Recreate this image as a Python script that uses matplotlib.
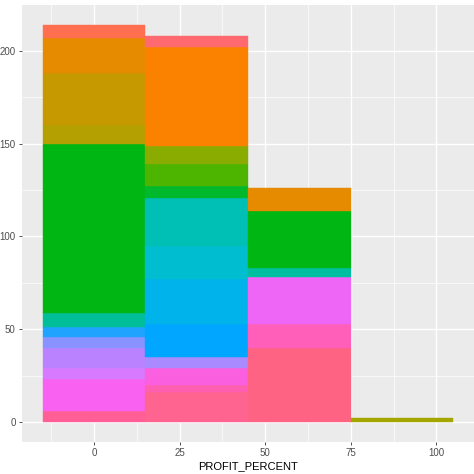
import matplotlib
matplotlib.use("Agg")
import matplotlib.pyplot as plt
import numpy as np

plt.rcParams['font.family'] = ['Liberation Sans', 'DejaVu Sans']

# histogram bins (centers), bin width 30
bin_centers = [0, 30, 60, 90]
bin_width = 30

# stacked counts per bin, bottom to top, with fill colours of the groups
counts_bin0 = [6, 17, 6, 11, 6, 5, 8, 91, 10, 28, 19, 7]
colors_bin0 = ['#FF5F96', '#F962F0', '#D77AFF', '#BB82FF', '#8A92FF', '#1FA3FF',
               '#00BE98', '#00B612', '#B4A000', '#C69900', '#E68A00', '#FF6F50']
counts_bin1 = [16, 4, 9, 6, 18, 24, 18, 26, 6, 12, 10, 53, 6]
colors_bin1 = ['#FF6390', '#FF5FB0', '#FA5FE0', '#A98BFF', '#00A6FF', '#00B4EB',
               '#00BDD0', '#00BFB4', '#00B82B', '#4DB400', '#8AAB00', '#FA8200', '#FF6A70']
counts_bin2 = [40, 13, 25, 5, 31, 12]
colors_bin2 = ['#FF6384', '#FF5FB8', '#EE66F6', '#00BFA0', '#00B612', '#E68A00']
counts_bin3 = [2]
colors_bin3 = ['#A3A500']

all_counts = [counts_bin0, counts_bin1, counts_bin2, counts_bin3]
all_colors = [colors_bin0, colors_bin1, colors_bin2, colors_bin3]

x_ticks = [0, 25, 50, 75, 100]
y_ticks = [0, 50, 100, 150, 200]
x_label = "PROFIT_PERCENT"

fig = plt.figure(figsize=(4.74, 4.74), dpi=100)
ax = fig.add_axes([22/474, 1 - 442/474, 452/474, 437/474])
ax.set_facecolor('#EBEBEB')

for c, cnts, cols in zip(bin_centers, all_counts, all_colors):
    bottom = 0
    for v, col in zip(cnts, cols):
        ax.bar(c, v, width=bin_width, bottom=bottom, color=col,
               edgecolor=col, linewidth=0.3, zorder=3)
        bottom += v

xmin, xmax = -15, 105
ymax = max(sum(c) for c in all_counts)
ax.set_xlim(xmin - 0.05 * (xmax - xmin), xmax + 0.05 * (xmax - xmin))
ax.set_ylim(-0.05 * ymax, ymax * 1.05)

ax.set_xticks(x_ticks)
ax.set_yticks(y_ticks)
ax.set_xticks([-12.5, 12.5, 37.5, 62.5, 87.5], minor=True)
ax.set_yticks([25, 75, 125, 175], minor=True)
ax.grid(which='major', color='white', linewidth=1.0, zorder=1)
ax.grid(which='minor', color='white', linewidth=0.5, zorder=1)
ax.set_axisbelow(True)
for s in ax.spines.values():
    s.set_visible(False)
ax.tick_params(which='major', length=2.5, width=0.6, color='#333333',
               labelcolor='#4D4D4D', labelsize=7, pad=2)
ax.tick_params(which='minor', length=0)
ax.set_xlabel(x_label, fontsize=8, color='black', labelpad=2)

fig.savefig('out.png', dpi=100, facecolor='white')
